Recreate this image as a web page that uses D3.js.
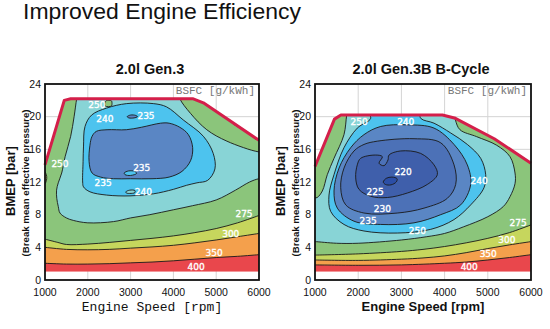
<!DOCTYPE html>
<html>
<head>
<meta charset="utf-8">
<script src="https://cdn.jsdelivr.net/npm/d3@7"></script>
<style>
  body { margin: 0; background: #fff; }
  svg { display: block; }
</style>
</head>
<body>
<script>
// axes
const rpmTicks = [1000, 2000, 3000, 4000, 5000, 6000];
const bmepTicks = [0, 4, 8, 12, 16, 20, 24];

// BSFC band edges [g/kWh] and the fill of each band (lowest first)
const bsfcSteps = [220, 225, 230, 235, 240, 250, 275, 300, 350];
const bandColors = ["#2b4ea6", "#3f5fab", "#4c71b7", "#5a86c4", "#4dc3ee", "#88d4d6",
                    "#8bc57b", "#c6d65d", "#f4a04c", "#e9474c"];

const mapFloor = 1.0; // lowest BMEP the maps cover

// full-load (max BMEP) curves, [rpm, bar]
const gen3FullLoad = [[1000, 14.1], [1450, 22.0], [1600, 22.2], [4450, 22.2], [4700, 21.7], [6000, 17.1]];
const bcycFullLoad = [[1000, 13.9], [1450, 19.7], [1600, 20.2], [3950, 20.2], [4250, 19.8], [5150, 17.3], [6000, 14.3]];

// iso-BSFC lines running across the whole speed range
const gen3Sweeps = [
  { bsfc: 350, line: [[1000, 2.05], [1500, 1.95], [2000, 1.95], [2500, 2.0], [3000, 2.1], [3500, 2.2], [4000, 2.35], [4500, 2.55], [5000, 2.75], [5500, 2.9], [6000, 3.1]] },
  { bsfc: 300, line: [[1000, 4.0], [1500, 3.75], [2000, 3.7], [2500, 3.75], [3000, 3.9], [3500, 4.05], [4000, 4.25], [4500, 4.55], [5000, 4.9], [5500, 5.3], [6000, 5.7]] },
  { bsfc: 275, line: [[1000, 5.0], [1300, 4.6], [1500, 4.35], [2000, 4.4], [2500, 4.6], [3000, 4.85], [3500, 5.1], [4000, 5.4], [4500, 5.8], [5000, 6.3], [5500, 7.0], [6000, 7.9]] }
];
const bcycSweeps = [
  { bsfc: 350, line: [[1000, 1.85], [2000, 1.8], [3000, 1.85], [4000, 2.05], [4500, 2.2], [5000, 2.45], [5500, 2.75], [6000, 3.1]] },
  { bsfc: 300, line: [[1000, 2.45], [2000, 2.4], [3000, 2.55], [3500, 2.7], [4000, 2.95], [4500, 3.35], [5000, 3.85], [5500, 4.3], [6000, 4.7]] },
  { bsfc: 275, line: [[1000, 3.05], [2000, 3.2], [3000, 3.5], [3500, 3.75], [4000, 4.1], [4500, 4.55], [5000, 5.1], [5500, 5.8], [6000, 6.75]] }
];

// closed iso-BSFC islands, band = [low, high] of the values inside
const gen3Rings = [
  { band: [240, 250], ring: [[1770, 23], [1740, 22.2], [1680, 20.0], [1600, 17.6], [1470, 15.1], [1390, 13.1], [1310, 11.9], [1270, 11.0], [1275, 10.0], [1310, 9.0], [1350, 8.2], [1500, 7.6], [1660, 7.3], [2000, 7.0], [2600, 7.15], [3000, 7.6], [3450, 8.0], [4000, 8.6], [4450, 9.1], [5000, 9.8], [5450, 11.0], [5780, 12.0], [6000, 12.4], [6150, 12.4], [6150, 15.7], [5980, 15.7], [5250, 17.0], [4780, 18.4], [4400, 20.4], [4150, 22.2], [4120, 23]] },
  { band: [275, 300], ring: [[5250, 20.0], [5400, 19.1], [5600, 18.5], [5800, 17.8], [5950, 17.2], [6050, 17.5], [5900, 19.5], [5300, 21.0]] },
  { band: [275, 300], ring: [[985, 13.3], [1030, 12.9], [1040, 12.4], [1000, 11.8], [960, 12.5]] },
  { band: [250, 275], ring: [[2410, 21.3], [2400, 21.7], [2430, 21.95], [2550, 21.95], [2565, 21.7], [2550, 21.3]] },
  { band: [235, 240], ring: [[1880, 12.0], [1890, 14.5], [1900, 16.4], [1935, 18.8], [2090, 20.2], [2440, 21.05], [2910, 21.6], [3530, 21.6], [3840, 21.2], [4230, 19.6], [4700, 17.6], [4930, 15.5], [4970, 13.6], [4800, 12.2], [4550, 11.9], [4310, 11.6], [4000, 11.1], [3530, 10.55], [2985, 10.3], [2440, 10.4], [2050, 10.8], [1900, 11.4]] },
  { band: [230, 235], ring: [[2050, 16.5], [2100, 17.6], [2200, 18.2], [2450, 18.4], [2900, 18.4], [3250, 18.7], [3700, 19.2], [3900, 19.2], [4150, 18.7], [4350, 17.8], [4450, 16.2], [4400, 14.6], [4200, 13.3], [3900, 12.6], [3500, 12.4], [3000, 12.4], [2600, 12.4], [2300, 12.6], [2100, 13.1], [2030, 14.5]] },
  { band: [230, 235], ring: [[2920, 20.0], [3000, 20.2], [3120, 20.15], [3160, 20.0], [3080, 19.85], [2960, 19.85]] },
  { band: [235, 240], ring: [[2850, 13.1], [2950, 13.35], [3100, 13.3], [3140, 13.05], [3000, 12.8], [2870, 12.9]] },
  { band: [240, 250], ring: [[2890, 10.8], [2980, 11.0], [3100, 10.95], [3100, 10.7], [2980, 10.6], [2900, 10.65]] }
];
const bcycRings = [
  { band: [240, 250], ring: [[1760, 21], [1733, 20.2], [1671, 17.8], [1440, 14.9], [1285, 12.9], [1170, 10.9], [1050, 10.1], [950, 10.0], [950, 4.7], [1000, 4.7], [1500, 4.5], [2000, 4.5], [3000, 4.9], [3585, 5.3], [4000, 5.7], [4433, 6.5], [5000, 7.75], [5360, 9.0], [5514, 10.2], [5630, 11.8], [5630, 13.1], [5514, 15.1], [5206, 16.5], [4743, 17.55], [4356, 18.4], [4250, 19.6], [4200, 21]] },
  { band: [235, 240], ring: [[2200, 21], [2289, 19.8], [1979, 18.6], [1671, 16.2], [1440, 12.9], [1324, 10.4], [1363, 8.4], [1671, 6.8], [2134, 6.0], [2906, 5.75], [3678, 6.2], [4218, 7.4], [4604, 9.2], [4912, 11.3], [4951, 12.9], [4836, 14.9], [4526, 16.6], [4142, 18.0], [3755, 19.2], [3447, 19.8], [3400, 21]] },
  { band: [230, 235], ring: [[2521, 18.8], [3137, 19.0], [3755, 18.6], [4218, 16.6], [4526, 14.1], [4604, 11.7], [4373, 9.2], [3910, 8.0], [3292, 7.0], [2521, 6.8], [1903, 7.2], [1517, 8.8], [1440, 10.9], [1556, 13.7], [1826, 16.2], [2134, 17.8]] },
  { band: [225, 230], ring: [[2443, 17.0], [3292, 17.3], [3910, 16.8], [4218, 14.1], [4257, 11.7], [4063, 10.0], [3523, 8.8], [2906, 8.2], [2134, 8.2], [1711, 9.2], [1595, 11.3], [1671, 13.7], [1903, 15.8], [2134, 16.6]] },
  { band: [220, 225], ring: [[2057, 14.9], [2405, 15.3], [2559, 15.1], [2482, 14.3], [2598, 14.0], [2690, 14.7], [2713, 15.3], [2984, 15.8], [3447, 15.5], [3755, 14.1], [3832, 12.9], [3600, 11.7], [3137, 10.65], [2674, 10.1], [2289, 10.25], [2018, 11.1], [1942, 12.5], [1979, 14.1]] },
  { band: [215, 220], ring: [[2580, 12.0], [2650, 12.45], [2780, 12.6], [2900, 12.4], [2880, 12.0], [2760, 11.65], [2630, 11.7]] }
];

// contour labels [bsfc, rpm, bar]
const gen3Labels = [[250, 2210, 21.4], [240, 2400, 19.7], [235, 3360, 20.1], [250, 1350, 14.2], [235, 3260, 13.7],
                    [235, 2360, 11.85], [240, 3300, 10.75], [275, 5650, 8.05], [300, 5340, 5.7], [350, 4950, 3.27], [400, 4530, 1.56]];
const bcycLabels = [[250, 2020, 19.35], [240, 3100, 19.35], [220, 3040, 13.2], [240, 4800, 12.15], [225, 2390, 10.85],
                    [230, 2560, 8.73], [235, 2230, 7.27], [250, 3370, 6.04], [275, 5700, 6.94], [300, 5440, 4.9],
                    [350, 5010, 3.18], [400, 4570, 1.63]];

const width = 550, height = 329;
const sans = "'Liberation Sans', Arial, sans-serif";
const mono = "'Liberation Mono', 'Courier New', monospace";

const bandColor = d3.scaleThreshold().domain(bsfcSteps).range(bandColors);

const svg = d3.select("body").append("svg")
  .attr("width", width)
  .attr("height", height);

svg.append("text")
  .attr("x", 23).attr("y", 19)
  .attr("font-family", sans).attr("font-size", 22)
  .attr("textLength", 278).attr("lengthAdjust", "spacingAndGlyphs")
  .attr("fill", "#111")
  .text("Improved Engine Efficiency");

drawMap({ id: "gen3", left: 45, right: 259, title: "2.0l Gen.3", fullLoad: gen3FullLoad,
          sweeps: gen3Sweeps, rings: gen3Rings, labels: gen3Labels, monoTitle: true });
drawMap({ id: "bcyc", left: 315, right: 531, title: "2.0l Gen.3B B-Cycle", fullLoad: bcycFullLoad,
          sweeps: bcycSweeps, rings: bcycRings, labels: bcycLabels, monoTitle: false });

function drawMap(o) {
  const x = d3.scaleLinear().domain([1000, 6000]).range([o.left, o.right]);
  const y = d3.scaleLinear().domain([0, 24]).range([280, 84]);
  const g = svg.append("g");

  // grid
  g.append("g").attr("stroke", "#d4d4d4").attr("stroke-width", 1)
    .selectAll("line").data(rpmTicks.slice(1, -1)).join("line")
    .attr("x1", d => x(d)).attr("x2", d => x(d)).attr("y1", y(0)).attr("y2", y(24));
  g.append("g").attr("stroke", "#d4d4d4").attr("stroke-width", 1)
    .selectAll("line").data(bmepTicks.slice(1, -1)).join("line")
    .attr("x1", x(1000)).attr("x2", x(6000)).attr("y1", d => y(d)).attr("y2", d => y(d));

  // operating envelope: full-load curve down to the map floor
  const fullLine = d3.line().x(d => x(d[0])).y(d => y(d[1]));
  const envelope = fullLine(o.fullLoad) + `L${x(6000)},${y(mapFloor)}L${x(1000)},${y(mapFloor)}Z`;
  svg.append("clipPath").attr("id", "clip-" + o.id)
    .append("path").attr("d", envelope);

  const map = g.append("g").attr("clip-path", `url(#clip-${o.id})`);
  map.append("path").attr("d", envelope).attr("fill", bandColor(375));

  const sweepLine = d3.line().curve(d3.curveCatmullRom.alpha(0.5)).x(d => x(d[0])).y(d => y(d[1]));
  const ringLine = d3.line().curve(d3.curveCatmullRomClosed.alpha(0.5)).x(d => x(d[0])).y(d => y(d[1]));

  // fill above each sweep line with the band just below its level
  o.sweeps.forEach(s => {
    map.append("path")
      .attr("d", sweepLine(s.line) + `L${x(6100)},${y(30)}L${x(900)},${y(30)}Z`)
      .attr("fill", bandColor(s.bsfc - 1));
  });
  o.sweeps.forEach(s => {
    map.append("path")
      .attr("d", sweepLine(s.line))
      .attr("fill", "none").attr("stroke", "#1a1a1a").attr("stroke-width", 0.9);
  });

  o.rings.forEach(r => {
    map.append("path")
      .attr("d", ringLine(r.ring))
      .attr("fill", bandColor((r.band[0] + r.band[1]) / 2))
      .attr("stroke", "#1a1a1a").attr("stroke-width", 0.9);
  });

  // contour labels
  map.append("g")
    .attr("font-family", "'DejaVu Sans', sans-serif").attr("font-size", 9)
    .attr("fill", "#fff").attr("stroke", "#fff").attr("stroke-width", 0.35)
    .attr("text-anchor", "middle")
    .selectAll("text").data(o.labels).join("text")
    .attr("x", d => x(d[1])).attr("y", d => y(d[2])).attr("dy", "0.35em")
    .text(d => d[0]);

  // full-load curve
  g.append("path")
    .attr("d", fullLine(o.fullLoad))
    .attr("fill", "none").attr("stroke", "#d41f4a").attr("stroke-width", 3)
    .attr("stroke-linejoin", "round");

  // frame
  g.append("rect")
    .attr("x", x(1000)).attr("y", y(24))
    .attr("width", x(6000) - x(1000)).attr("height", y(0) - y(24))
    .attr("fill", "none").attr("stroke", "#111").attr("stroke-width", 1.8);

  g.append("text")
    .attr("x", x(6000) - 4).attr("y", y(24) + 9.5)
    .attr("text-anchor", "end")
    .attr("font-family", mono).attr("font-size", 11).attr("fill", "#777")
    .text("BSFC [g/kWh]");

  // tick labels
  g.append("g")
    .attr("font-family", sans).attr("font-size", 10.5).attr("fill", "#111").attr("text-anchor", "end")
    .selectAll("text").data(bmepTicks).join("text")
    .attr("x", x(1000) - 4).attr("y", d => y(d)).attr("dy", "0.36em")
    .text(d => d);
  g.append("g")
    .attr("font-family", sans).attr("font-size", 10.5).attr("fill", "#111").attr("text-anchor", "middle")
    .selectAll("text").data(rpmTicks).join("text")
    .attr("x", d => x(d)).attr("y", 296)
    .text(d => d);

  // titles
  const cx = (o.left + o.right) / 2;
  g.append("text")
    .attr("x", cx - 2).attr("y", 74)
    .attr("text-anchor", "middle")
    .attr("font-family", sans).attr("font-size", 14.5).attr("font-weight", "bold").attr("fill", "#111")
    .text(o.title);

  g.append("text")
    .attr("x", cx).attr("y", 311)
    .attr("text-anchor", "middle")
    .attr("font-family", o.monoTitle ? mono : sans)
    .attr("font-size", 13)
    .attr("font-weight", o.monoTitle ? "normal" : "bold")
    .attr("fill", "#111")
    .text("Engine Speed [rpm]");

  g.append("text")
    .attr("transform", `translate(${o.left - 30.5},181) rotate(-90)`)
    .attr("text-anchor", "middle")
    .attr("font-family", sans).attr("font-size", 13).attr("font-weight", "bold").attr("fill", "#111")
    .text("BMEP [bar]");
  g.append("text")
    .attr("transform", `translate(${o.left - 16},183) rotate(-90)`)
    .attr("text-anchor", "middle")
    .attr("font-family", sans).attr("font-size", 9.7).attr("font-weight", "bold").attr("fill", "#111")
    .text("(Break mean effective pressure)");
}
</script>
</body>
</html>
